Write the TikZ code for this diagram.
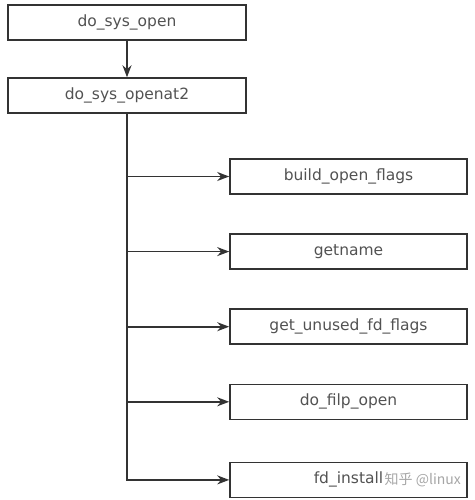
\documentclass[tikz,border=0pt]{standalone}
\usepackage{fontspec}
\setmainfont{DejaVu Sans}
\newfontfamily\cjk{Noto Sans CJK SC}
\usetikzlibrary{positioning}
\usetikzlibrary{arrows.meta}
\tikzstyle{call} = [rectangle, minimum width=238pt, minimum height=35pt, text centered, draw=black!80, line width=1.6pt, text=black!68, font=\fontsize{15.5}{18}\selectfont]
\tikzstyle{arrow} = [line width=1.6pt, draw=black!80, ->, >={Stealth[length=12pt, width=9pt]}]
\tikzstyle{watermark} = [text=black!35, inner sep=0pt, font=\cjk\fontsize{14}{16}\selectfont]

\begin{document}
\begin{tikzpicture}[x=1pt, y=-1pt, node distance=38.5pt]
        \useasboundingbox (0,0) rectangle (474,500);
        \node (open) [call] at (127,22.5) {do\_sys\_open};
        \node (openat) [call, below=36.5pt of open] {do\_sys\_openat2};
        \draw [arrow] (open) -- (openat);

        \node (flags) [call, minimum width=237pt] at (348.5,176.5) {build\_open\_flags};
        \node (getname) [call, minimum width=237pt, below=of flags] {getname};
        \node (unused) [call, minimum width=237pt, below=of getname] {get\_unused\_fd\_flags};
        \node (filp) [call, minimum width=237pt, below=of unused] {do\_filp\_open};
        \node (install) [call, minimum width=237pt, below=41.5pt of filp] {fd\_install};
        \node (zhihu) [watermark, anchor=west, xshift=36pt] at (install.center) {知乎 @linux};

        \draw [arrow] (openat) |- (flags);
        \draw [arrow] (openat) |- (getname);
        \draw [arrow] (openat) |- (unused);
        \draw [arrow] (openat) |- (filp);
        \draw [arrow] (openat) |- (install);
\end{tikzpicture}
\end{document}
